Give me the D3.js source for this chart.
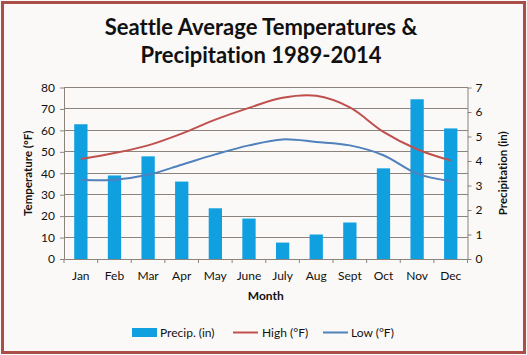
<!DOCTYPE html>
<html><head><meta charset="utf-8">
<script src="https://cdn.jsdelivr.net/npm/d3@7"></script>
<style>
html,body{margin:0;padding:0;background:#fff;}
svg{display:block;}
text{font-family:Lato,"Open Sans",sans-serif;fill:#111;font-variant-ligatures:none;font-feature-settings:"liga" 0,"clig" 0;}
</style></head>
<body>
<svg id="c" width="527" height="355"></svg>
<script>
const months = ["Jan","Feb","Mar","Apr","May","June","July","Aug","Sept","Oct","Nov","Dec"];
const precip = [5.50,3.41,4.19,3.16,2.07,1.65,0.67,1.00,1.49,3.70,6.52,5.33];
const high = [46.6,49.4,53.0,58.5,65.0,70.5,75.2,76.1,70.7,59.3,51.2,45.9];
const low = [36.8,37.0,39.3,44.0,48.8,53.0,55.8,54.6,53.0,48.4,39.8,36.3];
const tempTicks = [0,10,20,30,40,50,60,70,80];
const precipTicks = [0,1,2,3,4,5,6,7];
const titleLines = ["Seattle Average Temperatures &","Precipitation 1989-2014"];

const svg = d3.select("#c");
svg.append("rect").attr("x",0).attr("y",0).attr("width",527).attr("height",355).attr("fill","#fbf9f7");
svg.append("rect").attr("x",2.5).attr("y",2.5).attr("width",522).attr("height",350)
  .attr("fill","none").attr("stroke","#a94f47").attr("stroke-width",3);

const L=64, R=467.5, T=87.5, B=259;
const xb = d3.scaleBand().domain(months).range([L,R]);
const yT = d3.scaleLinear().domain([0,80]).range([B,T]);
const yP = d3.scaleLinear().domain([0,7]).range([B,T]);

// gridlines
svg.append("g").selectAll("line").data(tempTicks.slice(1)).join("line")
  .attr("x1",L).attr("x2",R).attr("y1",d=>yT(d)).attr("y2",d=>yT(d))
  .attr("stroke","#8c837d").attr("stroke-width",1).attr("shape-rendering","crispEdges");

// bars
svg.append("g").selectAll("rect").data(precip).join("rect")
  .attr("x",(d,i)=>xb(months[i])+xb.bandwidth()/2-6.6)
  .attr("width",13.3)
  .attr("y",d=>yP(d)).attr("height",d=>B-yP(d))
  .attr("fill","#10a0e0");

// lines
const line = (arr)=>d3.line().x((d,i)=>xb(months[i])+xb.bandwidth()/2).y(d=>yT(d)).curve(d3.curveCatmullRom.alpha(0.5))(arr);
svg.append("path").attr("d",line(high)).attr("fill","none").attr("stroke","#c0504d").attr("stroke-width",2);
svg.append("path").attr("d",line(low)).attr("fill","none").attr("stroke","#4f81bd").attr("stroke-width",2);

// axes
const axisCol="#8c837d";
const gL = svg.append("g").attr("transform",`translate(${L},0)`).call(d3.axisLeft(yT).tickValues(tempTicks).tickSize(4).tickSizeOuter(0).tickPadding(5));
const gR = svg.append("g").attr("transform",`translate(${R},0)`).call(d3.axisRight(yP).tickValues(precipTicks).tickFormat(d3.format("d")).tickSize(4).tickSizeOuter(0).tickPadding(4));
const gB = svg.append("g").attr("transform",`translate(0,${B})`).call(d3.axisBottom(xb).tickSize(0).tickPadding(12));
[gL,gR,gB].forEach(g=>{
  g.select(".domain").attr("stroke",axisCol);
  g.selectAll(".tick line").attr("stroke",axisCol);
  g.selectAll("text").attr("font-size",12).attr("fill","#111").attr("font-family","Lato,sans-serif");
});
// x boundary ticks
svg.append("g").selectAll("line").data(d3.range(13)).join("line")
  .attr("x1",i=>L+i*xb.step()).attr("x2",i=>L+i*xb.step()).attr("y1",B).attr("y2",B+4)
  .attr("stroke",axisCol);

// axis titles
svg.append("text").attr("transform",`translate(32,${(T+B)/2}) rotate(-90)`).attr("text-anchor","middle")
  .attr("font-size",11.5).attr("font-weight","bold").text("Temperature (°F)");
svg.append("text").attr("transform",`translate(507,${(T+B)/2}) rotate(-90)`).attr("text-anchor","middle")
  .attr("font-size",11.5).attr("font-weight","bold").text("Precipitation (in)");
svg.append("text").attr("x",(L+R)/2).attr("y",300).attr("text-anchor","middle")
  .attr("font-size",12).attr("font-weight","bold").text("Month");

// title
svg.append("g").selectAll("text").data(titleLines).join("text")
  .attr("x",261).attr("y",(d,i)=>35+i*28).attr("text-anchor","middle")
  .attr("font-size",22).attr("font-weight","bold").text(d=>d);

// legend
const lg = svg.append("g");
lg.append("rect").attr("x",132).attr("y",328).attr("width",25).attr("height",9).attr("fill","#10a0e0");
lg.append("text").attr("x",160).attr("y",336.5).attr("font-size",12).text("Precip. (in)");
lg.append("line").attr("x1",233).attr("x2",258).attr("y1",332.5).attr("y2",332.5).attr("stroke","#c0504d").attr("stroke-width",2);
lg.append("text").attr("x",262).attr("y",336.5).attr("font-size",12).text("High (°F)");
lg.append("line").attr("x1",323).attr("x2",348).attr("y1",332.5).attr("y2",332.5).attr("stroke","#4f81bd").attr("stroke-width",2);
lg.append("text").attr("x",351).attr("y",336.5).attr("font-size",12).text("Low (°F)");
</script>
</body></html>
